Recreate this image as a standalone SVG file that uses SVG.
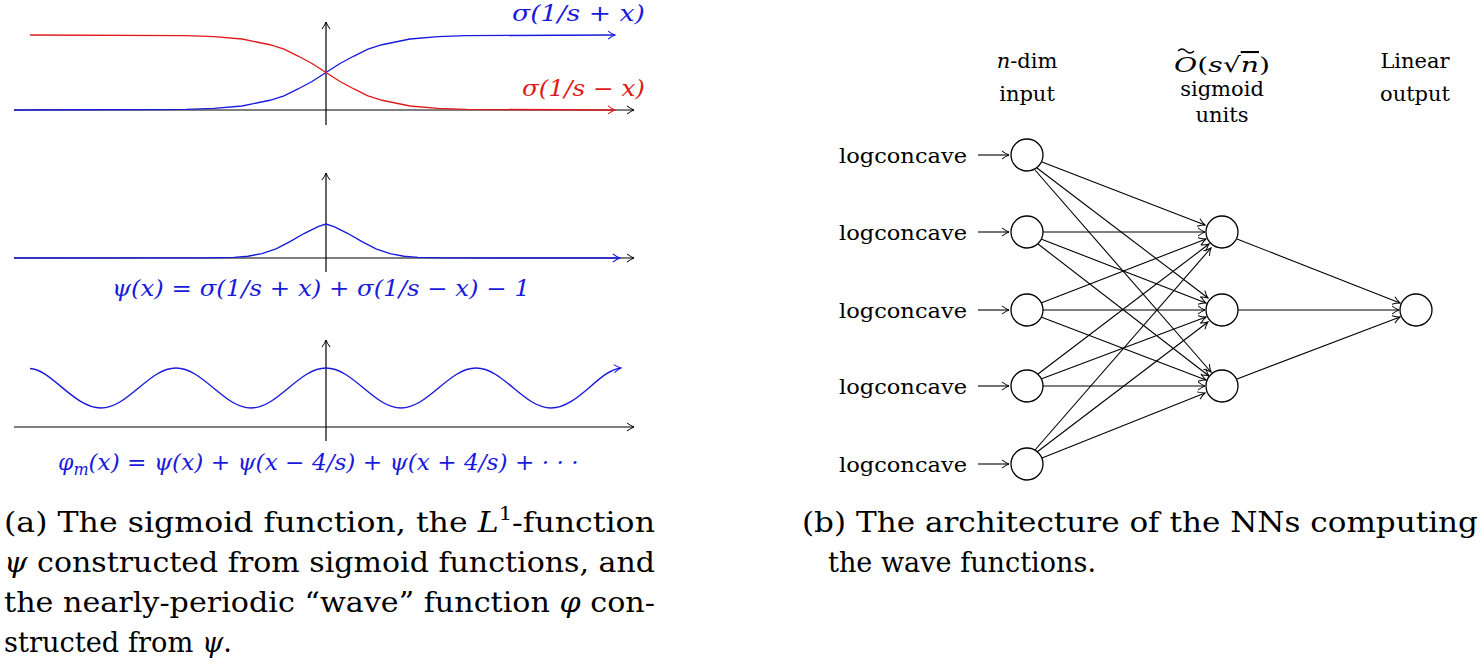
<svg xmlns="http://www.w3.org/2000/svg" width="1482" height="669" viewBox="0 0 1482 669">
<style>
.ax{stroke:#000;stroke-width:1.2;fill:none}
.b{stroke:#1a1adc;stroke-width:1.4;fill:none}
.r{stroke:#e01a1a;stroke-width:1.4;fill:none}
.m{font-family:"DejaVu Serif","Liberation Serif",serif;font-style:italic;font-size:22px}
.t{font-family:"DejaVu Serif","Liberation Serif",serif;font-size:21px;fill:#000}
.cap{font-family:"DejaVu Serif","Liberation Serif",serif;font-size:27px;fill:#000}
.n{fill:#fff;stroke:#000;stroke-width:1.3}
.e{stroke:#000;stroke-width:1.1;fill:none;marker-end:url(#ah)}
</style>
<defs>
<marker id="ah" markerWidth="10" markerHeight="10" refX="8" refY="5" orient="auto" markerUnits="userSpaceOnUse"><path d="M1,1 Q5,4 8,5 Q5,6 1,9" fill="none" stroke="#000" stroke-width="1"/></marker>
<marker id="ahb" markerWidth="10" markerHeight="10" refX="8" refY="5" orient="auto" markerUnits="userSpaceOnUse"><path d="M1,1 Q5,4 8,5 Q5,6 1,9" fill="none" stroke="#1a1adc" stroke-width="1"/></marker>
<marker id="ahr" markerWidth="10" markerHeight="10" refX="8" refY="5" orient="auto" markerUnits="userSpaceOnUse"><path d="M1,1 Q5,4 8,5 Q5,6 1,9" fill="none" stroke="#e01a1a" stroke-width="1"/></marker>
</defs>
<g id="plot1">
<path class="ax" d="M14,110 H634" marker-end="url(#ah)"/>
<path class="ax" d="M326,125 V22" marker-end="url(#ah)"/>
<polyline class="b" marker-end="url(#ahb)" points="14,110 186,109.4 214,108.4 242,106 270,100.3 284,95.8 298,89 312,81.5 326,72.5 340,63.5 354,56 368,49.2 382,44.7 410,39 438,36.6 466,35.6 615,35"/>
<polyline class="r" marker-end="url(#ahr)" points="30,35 186,35.6 214,36.6 242,39 270,44.7 284,49.2 298,56 312,63.5 326,72.5 340,81.5 354,89 368,95.8 382,100.3 410,106 438,108.4 466,109.4 615,110"/>
<text class="m" x="645" y="21" text-anchor="end" fill="#1a1adc" textLength="133" lengthAdjust="spacingAndGlyphs">σ(1/s + x)</text>
<text class="m" x="645" y="96" text-anchor="end" fill="#e01a1a" textLength="123" lengthAdjust="spacingAndGlyphs">σ(1/s − x)</text>
</g>
<g id="plot2">
<path class="ax" d="M14,258 H634" marker-end="url(#ah)"/>
<path class="ax" d="M326,272 V173" marker-end="url(#ah)"/>
<polyline class="b" marker-end="url(#ahb)" points="14,258 206,257.9 234,257.4 248,256.2 262,253.6 276,248.8 290,241.7 304,233.5 318,226.7 326,224 334,226.7 348,233.5 362,241.7 376,248.8 390,253.6 404,256.2 418,257.4 446,257.9 620,258"/>
<text class="m" x="112" y="296" fill="#1a1adc" textLength="418" lengthAdjust="spacingAndGlyphs">ψ(x) = σ(1/s + x) + σ(1/s − x) − 1</text>
</g>
<g id="plot3">
<path class="ax" d="M14,427 H634" marker-end="url(#ah)"/>
<path class="ax" d="M326,441 V340" marker-end="url(#ah)"/>
<path class="b" marker-end="url(#ahb)" d="M30,368.5 C51,369 74,408 101,408 C128,408 149,368 176,368 C203,368 224,408 251,408 C278,408 299,368 326,368 C353,368 374,408 401,408 C428,408 449,368 476,368 C503,368 524,408 551,408 C578,408 599,370 621,368"/>
<text class="m" x="58" y="470" fill="#1a1adc">φ<tspan font-size="16" dy="5">m</tspan><tspan dy="-5" textLength="490" lengthAdjust="spacingAndGlyphs">(x) = ψ(x) + ψ(x − 4/s) + ψ(x + 4/s) + · · ·</tspan></text>
</g>
<g id="captionA">
<text class="cap" x="4" y="532" textLength="651" lengthAdjust="spacingAndGlyphs">(a) The sigmoid function, the <tspan font-style="italic">L</tspan><tspan font-size="18" dy="-12">1</tspan><tspan dy="12">-function</tspan></text>
<text class="cap" x="4" y="572" textLength="651" lengthAdjust="spacingAndGlyphs"><tspan font-style="italic">ψ</tspan> constructed from sigmoid functions, and</text>
<text class="cap" x="4" y="612" textLength="651" lengthAdjust="spacingAndGlyphs">the nearly-periodic “wave” function <tspan font-style="italic">φ</tspan> con-</text>
<text class="cap" x="4" y="652" textLength="228" lengthAdjust="spacingAndGlyphs">structed from <tspan font-style="italic">ψ</tspan>.</text>
</g>
<g id="headers">
<text class="t" x="1027" y="68" text-anchor="middle"><tspan font-style="italic">n</tspan>-dim</text>
<text class="t" x="1027" y="101" text-anchor="middle">input</text>
<text class="t" x="1222" y="72" text-anchor="middle" font-size="19" textLength="96" lengthAdjust="spacingAndGlyphs"><tspan font-style="italic">O</tspan>(<tspan font-style="italic">s</tspan>√<tspan font-style="italic" text-decoration="overline">n</tspan>)</text>
<path d="M1178,51 q4,-4 8,0 t8,0" stroke="#000" stroke-width="1.2" fill="none"/>
<text class="t" x="1222" y="96" text-anchor="middle">sigmoid</text>
<text class="t" x="1222" y="122" text-anchor="middle">units</text>
<text class="t" x="1415" y="68" text-anchor="middle">Linear</text>
<text class="t" x="1415" y="101" text-anchor="middle">output</text>
</g>
<g id="connectors">
<path class="e" d="M978,155 H1009"/><path class="e" d="M978,232 H1009"/><path class="e" d="M978,310 H1009"/><path class="e" d="M978,386 H1009"/><path class="e" d="M978,464 H1009"/>
<path class="e" d="M1042,162 L1205,225"/><path class="e" d="M1037,168 L1208,298"/><path class="e" d="M1035,170 L1211,372"/>
<path class="e" d="M1043,232 L1205,232"/><path class="e" d="M1041,239 L1206,303"/><path class="e" d="M1038,244 L1209,376"/>
<path class="e" d="M1041,303 L1206,239"/><path class="e" d="M1043,310 L1205,310"/><path class="e" d="M1041,317 L1206,380"/>
<path class="e" d="M1038,374 L1209,244"/><path class="e" d="M1041,379 L1206,317"/><path class="e" d="M1043,386 L1205,386"/>
<path class="e" d="M1035,450 L1211,248"/><path class="e" d="M1037,452 L1208,322"/><path class="e" d="M1042,458 L1205,393"/>
<path class="e" d="M1237,239 L1400,303"/><path class="e" d="M1238,310 L1399,310"/><path class="e" d="M1237,379 L1400,317"/>
</g>
<g id="inputs">
<text class="t" x="967" y="163" text-anchor="end" textLength="128" lengthAdjust="spacingAndGlyphs">logconcave</text>
<text class="t" x="967" y="240" text-anchor="end" textLength="128" lengthAdjust="spacingAndGlyphs">logconcave</text>
<text class="t" x="967" y="318" text-anchor="end" textLength="128" lengthAdjust="spacingAndGlyphs">logconcave</text>
<text class="t" x="967" y="394" text-anchor="end" textLength="128" lengthAdjust="spacingAndGlyphs">logconcave</text>
<text class="t" x="967" y="472" text-anchor="end" textLength="128" lengthAdjust="spacingAndGlyphs">logconcave</text>
</g>
<g id="in1"><circle class="n" cx="1027" cy="155" r="16"/></g>
<g id="in2"><circle class="n" cx="1027" cy="232" r="16"/></g>
<g id="in3"><circle class="n" cx="1027" cy="310" r="16"/></g>
<g id="in4"><circle class="n" cx="1027" cy="386" r="16"/></g>
<g id="in5"><circle class="n" cx="1027" cy="464" r="16"/></g>
<g id="h1"><circle class="n" cx="1222" cy="232" r="16"/></g>
<g id="h2"><circle class="n" cx="1222" cy="310" r="16"/></g>
<g id="h3"><circle class="n" cx="1222" cy="386" r="16"/></g>
<g id="out"><circle class="n" cx="1416" cy="310" r="16"/></g>
<g id="captionB">
<text class="cap" x="802" y="532" textLength="676" lengthAdjust="spacingAndGlyphs">(b) The architecture of the NNs computing</text>
<text class="cap" x="828" y="572" textLength="268" lengthAdjust="spacingAndGlyphs">the wave functions.</text>
</g>
</svg>
